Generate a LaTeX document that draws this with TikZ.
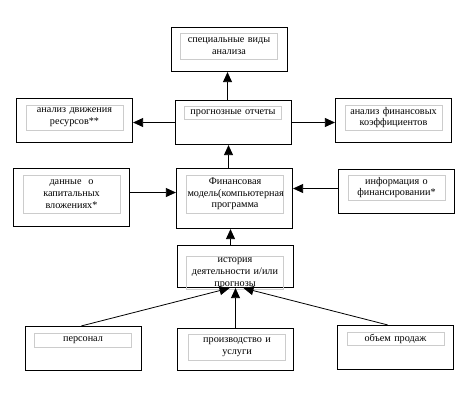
\documentclass[tikz,border=0pt]{standalone}
\usepackage{fontspec}
\setmainfont{Liberation Serif}
\usetikzlibrary{arrows.meta}
\begin{document}
\begin{tikzpicture}[x=1pt,y=-1pt,
	outerbox/.style={draw, rectangle, line width=1.2pt, inner sep=0pt, minimum width=116pt},
	innerbox/.style={draw=gray!40, rectangle, line width=0.8pt, inner sep=1pt, text centered,
	text width=95pt, font=\fontsize{10.2}{11.7}\selectfont},
	arr/.style={-{Triangle[length=10pt,width=9pt]}, line width=0.8pt}]
	
	\useasboundingbox (0,0) rectangle (474,402);
	
	%Outer blocks
	\node (analysisTypes) at (229.5,49.5) [outerbox, minimum height=44pt]{};
	\node (forecastReports) at (233.5,122.5) [outerbox, minimum height=44pt]{};
	\node (resourceFlow) at (74.5,120.5) [outerbox, minimum height=44pt]{};
	\node (ratioAnalysis) at (393.5,120.5) [outerbox, minimum height=44pt]{};
	\node (capitalData) at (71.5,197.5) [outerbox, minimum height=58pt]{};
	\node (finModel) at (234.5,198.5) [outerbox, minimum height=60pt]{};
	\node (financingInfo) at (396.5,191.5) [outerbox, minimum height=44pt]{};
	\node (history) at (235.5,266.5) [outerbox, minimum height=42pt]{};
	\node (personnel) at (83.5,348.5) [outerbox, minimum height=44pt]{};
	\node (production) at (235.5,349.5) [outerbox, minimum height=42pt]{};
	\node (salesVolume) at (395.5,347.5) [outerbox, minimum height=44pt]{};
	
	%Inner text frames
	\node (analysisTypesTxt) at (229,46) [innerbox, minimum height=26pt]{специальные виды\\анализа};
	\node (forecastReportsTxt) at (233,113) [innerbox, minimum height=13pt]{прогнозные отчеты};
	\node (resourceFlowTxt) at (74.5,117.5) [innerbox, minimum height=25pt]{анализ движения\\ресурсов**};
	\node (ratioAnalysisTxt) at (393.5,117.5) [innerbox, minimum height=25pt]{анализ финансовых\\коэффициентов};
	\node (capitalDataTxt) at (71.5,194) [innerbox, minimum height=38pt]{данные~~о\\капитальных\\вложениях*};
	\node (finModelTxt) at (235,194) [innerbox, minimum height=38pt]{Финансовая\\модель(компьютерная\\программа};
	\node (financingInfoTxt) at (396.5,187.5) [innerbox, minimum height=25pt]{информация о\\финансировании*};
	\node (historyTxt) at (235,273) [innerbox, minimum height=33pt]{история\\деятельности и/или\\прогнозы};
	\node (personnelTxt) at (83,340) [innerbox, minimum height=14pt]{персонал};
	\node (productionTxt) at (237,347) [innerbox, minimum height=26pt]{производство и\\услуги};
	\node (salesVolumeTxt) at (395.5,338.5) [innerbox, minimum height=13pt]{объем продаж};
	
	%Links
	\draw[arr] ([xshift=-6pt]forecastReports.north) -- ([xshift=-6pt]forecastReports.north |- analysisTypes.south);
	\draw[arr] (forecastReports.west) -- (forecastReports.west -| resourceFlow.east);
	\draw[arr] (forecastReports.east) -- (forecastReports.east -| ratioAnalysis.west);
	\draw[arr] ([xshift=-6pt]finModel.north) -- ([xshift=-6pt]finModel.north |- forecastReports.south);
	\draw[arr] ([yshift=5pt]capitalData.east) -- ([yshift=5pt]capitalData.east -| finModel.west);
	\draw[arr] ([yshift=3pt]financingInfo.west) -- ([yshift=3pt]financingInfo.west -| finModel.east);
	\draw[arr] ([xshift=-5pt]history.north) -- ([xshift=-5pt]history.north |- finModel.south);
	\draw[arr] ([xshift=-2pt]personnel.north) -- ([xshift=-6pt]history.south);
	\draw[arr] (production.north) -- (history.south);
	\draw[arr] ([xshift=-8pt]salesVolume.north) -- ([xshift=8pt]history.south);
	
\end{tikzpicture}
\end{document}
